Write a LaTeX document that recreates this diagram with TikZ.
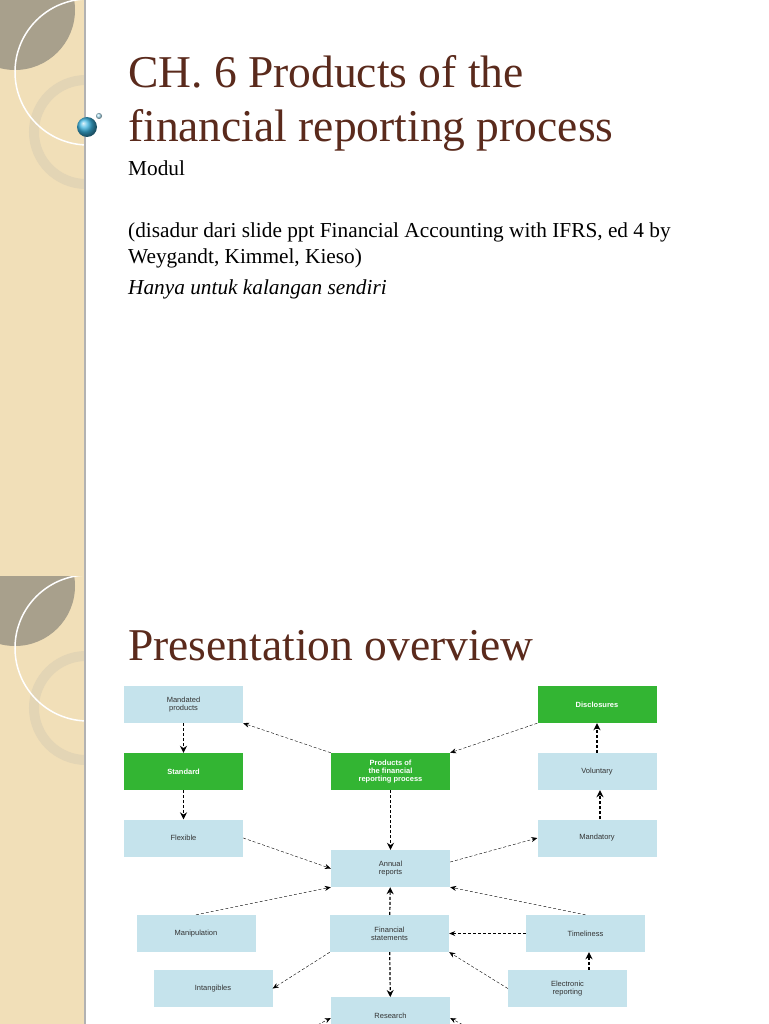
\documentclass[tikz,border=0pt]{standalone}
\usepackage{fontspec}
\setmainfont{Liberation Serif}
\newfontfamily\lsans{Liberation Sans}
\usetikzlibrary{arrows.meta}
\definecolor{titlec}{HTML}{5A2A1C}
\definecolor{beige}{HTML}{F1DFB8}
\definecolor{greyb}{HTML}{A8A08C}
\definecolor{ringc}{HTML}{E3D5B5}
\definecolor{boxblue}{HTML}{C5E3EC}
\definecolor{boxgreen}{HTML}{33B533}
\definecolor{ballblue}{HTML}{3CB4E0}
\tikzset{
  bbox/.style={fill=boxblue,minimum width=119pt,minimum height=37pt,inner sep=1pt,align=center,font=\lsans\fontsize{7.5}{8}\selectfont,text=black!80},
  gbox/.style={fill=boxgreen,minimum width=119pt,minimum height=37pt,inner sep=1pt,align=center,font=\lsans\bfseries\fontsize{7.5}{8}\selectfont,text=white},
  conn/.style={densely dashed,thin,-{Stealth[length=6pt,width=5pt]}},
  vconn/.style={densely dashed,line width=1.2pt,-{Stealth[length=7pt,width=7pt]}},
  ttl/.style={anchor=base west,font=\fontsize{45.5}{48}\selectfont,text=titlec,inner sep=0pt},
  sub/.style={anchor=base west,font=\fontsize{21.3}{24}\selectfont,inner sep=0pt}
}
\newcommand{\stripdeco}[1]{%
  \begin{scope}[yshift=-#1pt]
    \begin{scope}
      \clip (0,0) rectangle (85,576);
      \fill[greyb] (15,10) circle (60);
      \draw[ringc,line width=10pt] (86,132) circle (52);
      \draw[white,line width=1.5pt] (88,72) circle (73);
    \end{scope}
    \fill[gray!60] (84,0) rectangle (86,576);
  \end{scope}}
\begin{document}
\begin{tikzpicture}[x=1pt,y=-1pt]
\useasboundingbox (0,0) rectangle (768,1024);
\fill[white] (0,0) rectangle (768,1024);
\fill[beige] (0,0) rectangle (85,1024);
\stripdeco{0}
\stripdeco{576}
\shade[ball color=ballblue] (87,127) circle (10);
\shade[ball color=ballblue!40] (99,116) circle (3);
% slide 1 text
\node[ttl] (t1) at (128,88) {CH. 6 Products of the};
\node[ttl] (t2) at (128,142) {financial reporting process};
\node[sub] (s1) at (128,176) {Modul};
\node[sub] (s2) at (128,237) {(disadur dari slide ppt Financial Accounting with IFRS, ed 4 by};
\node[sub] (s3) at (128,263) {Weygandt, Kimmel, Kieso)};
\node[sub,font=\itshape\fontsize{21.3}{24}\selectfont] (s4) at (128,294) {Hanya untuk kalangan sendiri};
% slide 2
\node[ttl] (t3) at (128,660) {Presentation overview};
\node[bbox] (mand) at (183.5,704.5) {Mandated\\products};
\node[gbox] (std) at (183.5,771.5) {Standard};
\node[bbox] (flex) at (183.5,838) {Flexible};
\node[gbox] (prod) at (390.5,771.5) {Products of\\the financial\\reporting process};
\node[bbox] (ann) at (390.5,868.5) {Annual\\reports};
\node[gbox] (disc) at (597,704.5) {Disclosures};
\node[bbox] (vol) at (597,771.5) {Voluntary};
\node[bbox] (mdy) at (597,838) {Mandatory};
\node[bbox] (manip) at (196,933.5) {Manipulation};
\node[bbox] (fin) at (389.5,933.5) {Financial\\statements};
\node[bbox] (time) at (585.5,933.5) {Timeliness};
\node[bbox] (intan) at (213,988.5) {Intangibles};
\node[bbox] (elec) at (567.5,988.5) {Electronic\\reporting};
\node[bbox,anchor=north] (res) at (390.5,997) {Research};
\draw[vconn] (mand) -- (std);
\draw[vconn] (std) -- (flex);
\draw[vconn] (prod) -- (ann);
\draw[vconn] (vol) -- (disc);
\draw[vconn] (mdy.north -| 600,0) -- (vol.south -| 600,0);
\draw[vconn] (fin) -- (ann);
\draw[vconn] (fin) -- (res);
\draw[vconn] (elec.north -| 589,0) -- (time.south -| 589,0);
\draw[conn] (prod.north west) -- (mand.south east);
\draw[conn] (disc.south west) -- (prod.north east);
\draw[conn] (flex.east) -- (ann.west);
\draw[conn] (manip.north) -- (ann.south west);
\draw[conn] (ann.north east |- 0,862) -- (mdy.west);
\draw[conn] (time.north) -- (ann.south east);
\draw[conn,thick] (time.west) -- (fin.east);
\draw[conn] (elec.west) -- (fin.south east);
\draw[conn] (fin.south west) -- (intan.east);
\coordinate (lfree) at (300,1034);
\coordinate (rfree) at (480,1034);
\draw[conn] (lfree) -- (res.west |- 0,1018);
\draw[conn] (rfree) -- (res.east |- 0,1018);
\end{tikzpicture}
\end{document}
